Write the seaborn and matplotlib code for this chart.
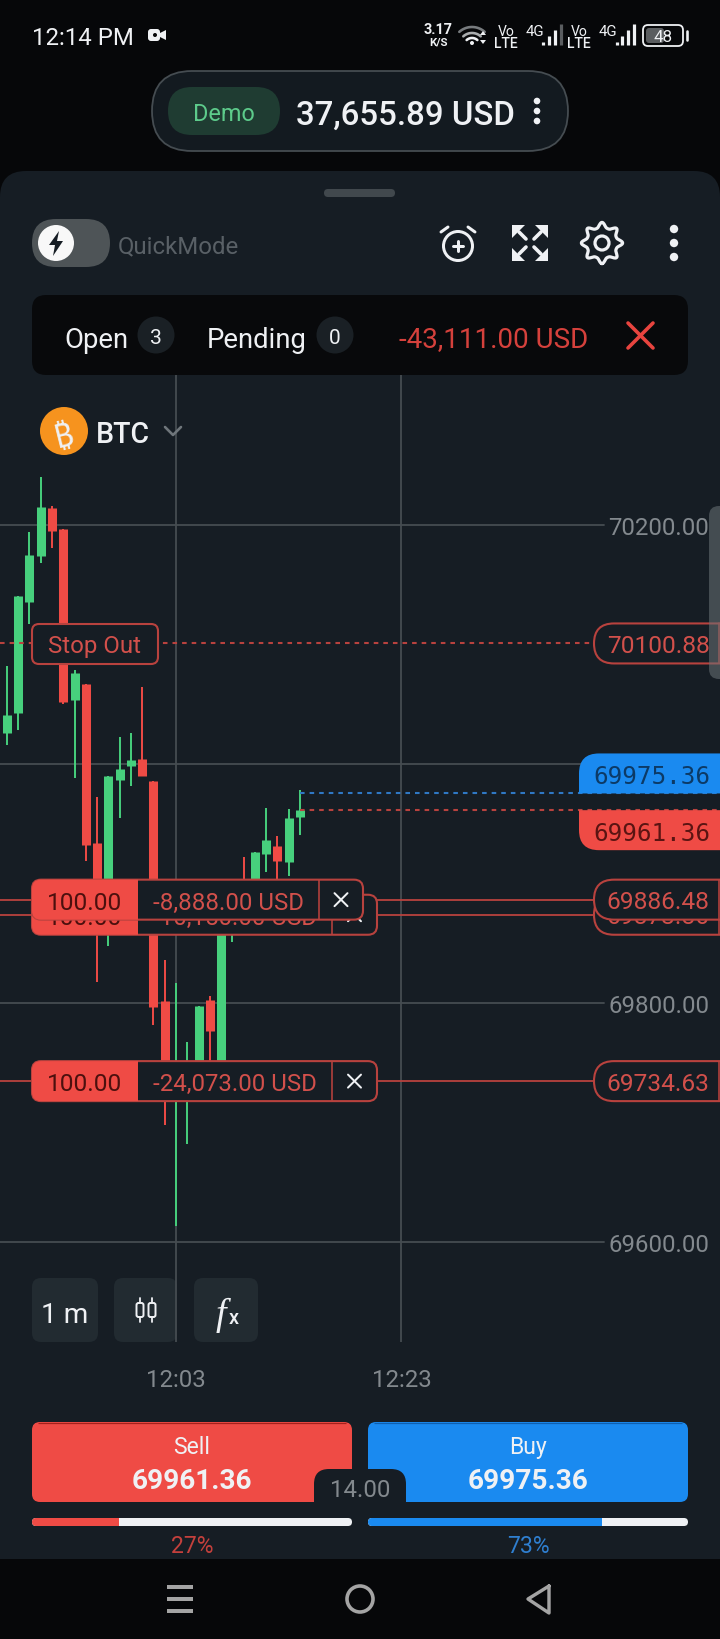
import numpy as np
import pandas as pd
import matplotlib
matplotlib.use('Agg')
import matplotlib.pyplot as plt
import seaborn as sns
from matplotlib.patches import PathPatch, Circle, Polygon
from matplotlib.path import Path

# candles, minutes from 12:03
minutes = [-16, -15, -14, -13, -12, -11, -10, -9, -8, -7, -6, -5, -4, -3, -2, -1, 0, 1, 2, 3, 4, 5, 6, 7, 8, 9, 10, 11]
opens = [70096, 70025.9, 70042.9, 70135.3, 70173.8, 70213.9, 70196.6, 70053.5, 70066.6, 69933.6, 69870, 69986.9, 69998.6,
         70004.2, 69985.5, 69802, 69745, 69725, 69745, 69802.5, 69745, 69860, 69885, 69880, 69925, 69931.6, 69918, 69955.3]
closes = [70060, 70041.3, 70140.3, 70175.2, 70214.8, 70195.2, 70052.1, 70076.1, 69932.5, 69870, 69989.6, 69995.8, 70003.3,
          69989.6, 69796.9, 69745, 69750, 69745, 69797.5, 69776.3, 69870, 69875, 69870, 69926, 69936, 69919, 69955, 69961.8]
highs = [70110, 70082.3, 70140.3, 70193.8, 70239.9, 70216.1, 70196.6, 70078.6, 70066.6, 69972.1, 69989.6, 70022.3, 70025.9,
         70064.1, 69985.5, 69836, 69817, 69767, 69797.5, 69806, 69870, 69880, 69922, 69926, 69963, 69940, 69962, 69978.5]
lows = [70060, 70016.1, 70028.7, 70117.4, 70168.2, 70180.7, 70050.2, 69988, 69918.8, 69817.6, 69847.7, 69954.5, 69981.8,
        69989.6, 69781.6, 69698, 69613.7, 69682, 69745, 69745, 69745, 69851, 69865, 69880, 69909.6, 69900, 69906.5, 69941]

grid_prices = [70200, 70000, 69800, 69600]
grid_labels = ['70200.00', '', '69800.00', '69600.00']  # 70000 sits behind the ask tag
time_ticks = [0, 20]
time_labels = ['12:03', '12:23']

stop_out = 70100.88
ask = 69975.36
bid = 69961.36
position_prices = [69873.86, 69886.48, 69734.63]
position_labels = ['69873.86', '69886.48', '69734.63']
position_pnl = ['-10,150.00 USD', '-8,888.00 USD', '-24,073.00 USD']
position_size = ['100.00', '100.00', '100.00']

BLACK = '#060709'
PANEL = '#161d24'
GREEN = '#47d07d'
RED = '#ef4b45'
LINE_RED = '#b8423e'
TEXT_RED = '#d2504b'
BLUE = '#1a8af0'
GRID = '#454c51'
GREY = '#83898e'
WHITE = '#eff1f4'

PX_MIN = 11.27
PX_USD = 1.195
X0 = 176
Y_70200 = 526
TOP, BOTTOM = 376, 1343

sns.set_theme(style='dark')
plt.rcParams['font.family'] = ['Roboto', 'DejaVu Sans']


def py(price):
    return Y_70200 + (70200 - price) * PX_USD


def rrect(ax, x0, y0, x1, y1, r=0, fc='none', ec='none', lw=0, z=1, alpha=None):
    # r is one radius or (top left, top right, bottom right, bottom left)
    tl, tr, br, bl = (r, r, r, r) if np.isscalar(r) else r
    verts = [(x0 + tl, y0), (x1 - tr, y0), (x1, y0), (x1, y0 + tr), (x1, y1 - br), (x1, y1), (x1 - br, y1),
             (x0 + bl, y1), (x0, y1), (x0, y1 - bl), (x0, y0 + tl), (x0, y0), (x0 + tl, y0), (x0 + tl, y0)]
    codes = [Path.MOVETO, Path.LINETO, Path.CURVE3, Path.CURVE3, Path.LINETO, Path.CURVE3, Path.CURVE3,
             Path.LINETO, Path.CURVE3, Path.CURVE3, Path.LINETO, Path.CURVE3, Path.CURVE3, Path.CLOSEPOLY]
    p = PathPatch(Path(verts, codes), facecolor=fc, edgecolor=ec, linewidth=lw, zorder=z, alpha=alpha)
    ax.add_patch(p)
    return p


def label(ax, x, y, s, px, color=WHITE, ha='center', weight='normal', z=5, **kw):
    return ax.text(x, y, s, fontsize=px * 0.72, color=color, ha=ha, va='center_baseline', fontweight=weight, zorder=z, **kw)


def seg(ax, xs, ys, color=WHITE, lw=2, z=5, cap='round'):
    ax.plot(xs, ys, color=color, lw=lw * 0.72, zorder=z, solid_capstyle=cap, solid_joinstyle='round')


fig = plt.figure(figsize=(7.2, 16.4), dpi=100, facecolor=BLACK)


def pixel_axes(z):
    a = fig.add_axes([0, 0, 1, 1], zorder=z)
    a.set_xlim(0, 720)
    a.set_ylim(1640, 0)
    a.axis('off')
    a.patch.set_alpha(0)
    return a


bg = pixel_axes(0)
ui = pixel_axes(2)

# panel and things that sit under the chart
rrect(bg, 0, 172, 720, 1562, r=(26, 26, 0, 0), fc=PANEL)
rrect(bg, 32, 1279, 98, 1343, r=9, fc='#222b31')
rrect(bg, 114, 1279, 177, 1343, r=9, fc='#222b31')
rrect(bg, 194, 1279, 258, 1343, r=9, fc='#222b31')

# chart
ax = fig.add_axes([0, (1640 - BOTTOM) / 1640, 1, (BOTTOM - TOP) / 1640], zorder=1)
ax.patch.set_alpha(0)

candles = pd.DataFrame({'minute': minutes, 'open': opens, 'close': closes, 'high': highs, 'low': lows})
candles['dir'] = np.where(candles['close'] >= candles['open'], 'up', 'down')
colors = {'up': GREEN, 'down': RED}

wicks = candles.melt(id_vars=['minute', 'dir'], value_vars=['high', 'low'], value_name='price')
bodies = candles.melt(id_vars=['minute', 'dir'], value_vars=['open', 'close'], value_name='price')
sns.lineplot(data=wicks, x='minute', y='price', hue='dir', units='minute', estimator=None, palette=colors,
             linewidth=1.4, legend=False, solid_capstyle='butt', ax=ax, zorder=3)
sns.lineplot(data=bodies, x='minute', y='price', hue='dir', units='minute', estimator=None, palette=colors,
             linewidth=6.5, legend=False, solid_capstyle='butt', ax=ax, zorder=4)

ax.set_xlim(-X0 / PX_MIN, (720 - X0) / PX_MIN)
ax.set_ylim(70200 - (BOTTOM - Y_70200) / PX_USD, 70200 + (Y_70200 - TOP) / PX_USD)

for p in grid_prices:
    ax.axhline(p, xmax=604 / 720, color=GRID, lw=1.3, zorder=1)
ax.set_xticks(time_ticks, time_labels)
ax.set_yticks(grid_prices, grid_labels)
ax.yaxis.tick_right()
ax.tick_params(axis='y', length=0, pad=-80.5, labelsize=24 * 0.72, labelcolor=GREY)
ax.tick_params(axis='x', length=0, pad=18.5, labelsize=24 * 0.72, labelcolor=GREY)
ax.grid(axis='x', color=GRID, lw=1.3, zorder=1)
ax.grid(axis='y', visible=False)
ax.set_xlabel('')
ax.set_ylabel('')
for s in ax.spines.values():
    s.set_visible(False)

# price levels
ax.axhline(stop_out, color=LINE_RED, lw=1.5, ls=(0, (2.2, 2.4)), zorder=5)
ax.axhline(ask, xmin=300 / 720, color='#2f78c4', lw=1.5, ls=(0, (2.2, 2.4)), zorder=5)
ax.axhline(bid, xmin=300 / 720, color=LINE_RED, lw=1.5, ls=(0, (2.2, 2.4)), zorder=5)
for p in position_prices:
    ax.axhline(p, color=LINE_RED, lw=1.3, zorder=5)

# status bar
label(ui, 32, 36, '12:14 PM', 24, ha='left')
rrect(ui, 148, 30, 160, 42, r=3, fc=WHITE)
ui.add_patch(Polygon([(160, 34), (166, 31), (166, 41), (160, 38)], fc=WHITE, ec='none', zorder=5))
ui.add_patch(Circle((155, 36), 2, fc=BLACK, ec='none', zorder=6))
label(ui, 438, 29, '3.17', 14.5, weight='bold')
label(ui, 438, 42, 'K/S', 11.5, weight='bold')
for r, col in [(19, '#777b7e'), (13, '#a9acae'), (8, WHITE)]:
    t = np.linspace(np.radians(48), np.radians(132), 20)
    seg(ui, 472 + r * np.cos(t), 47 - r * np.sin(t), color=col, lw=2.6)
ui.add_patch(Circle((472, 44), 2, fc=WHITE, ec='none', zorder=5))
ui.add_patch(Polygon([(480, 36), (486, 36), (483, 32)], fc=WHITE, ec='none', zorder=5))
ui.add_patch(Polygon([(480, 41), (486, 41), (483, 45)], fc=WHITE, ec='none', zorder=5))
for vx, gx, barx, tops, shades in [(506, 535, [543, 549, 555, 561], [43, 37, 31, 25], [WHITE, WHITE, WHITE, '#5a5d60']),
                                   (579, 608, [617, 622, 628, 634], [43, 37, 31, 25], [WHITE] * 4)]:
    label(ui, vx, 30, 'Vo', 14)
    label(ui, vx, 42, 'LTE', 14, weight='medium')
    label(ui, gx, 31, '4G', 15)
    for bx, bt, c in zip(barx, tops, shades):
        seg(ui, [bx, bx], [bt, 46], color=c, lw=3.2, cap='butt')
rrect(ui, 643, 26, 683, 47, r=5, fc=BLACK, ec=WHITE, lw=1.3)
rrect(ui, 646, 29, 664, 44, r=3, fc='#5a5d60', z=4)
label(ui, 663, 36.5, '48', 17, z=6)
seg(ui, [687, 687], [32, 41], lw=2.6)

# balance pill
rrect(ui, 152, 72, 568, 152, r=40, fc='#131a20', ec='#454c51', lw=1.3)
rrect(ui, 168, 88, 280, 136, r=24, fc='#1f3c32', z=3)
label(ui, 224, 112, 'Demo', 23.5, color='#5dcb8b')
label(ui, 296, 112, '37,655.89 USD', 33, ha='left', weight='medium')
for y in (102, 112, 122):
    ui.add_patch(Circle((537, y), 3.3, fc=WHITE, ec='none', zorder=5))

# handle and quick mode row
rrect(ui, 324, 190, 395, 198, r=4, fc='#41484d')
rrect(ui, 32, 220, 110, 268, r=24, fc='#4e5457')
ui.add_patch(Circle((56, 244), 18, fc='#f8f8f8', ec='none', zorder=4))
ui.add_patch(Polygon([(59, 232), (49, 246), (55, 246), (53, 257), (63, 242), (57, 242)], fc=PANEL, ec='none', zorder=5))
label(ui, 118, 244, 'QuickMode', 24, color='#596066', ha='left')

ui.add_patch(Circle((458, 247), 14.5, fc='none', ec=WHITE, lw=3 * 0.72, zorder=5))
seg(ui, [441, 448], [233, 228], lw=3)
seg(ui, [475, 468], [233, 228], lw=3)
seg(ui, [453, 463], [247, 247], lw=3)
seg(ui, [458, 458], [242, 252], lw=3)

for sx, sy in [(-1, -1), (1, -1), (1, 1), (-1, 1)]:
    cx, cy = 530 + 18 * sx, 244 + 18 * sy
    ui.add_patch(Polygon([(cx, cy), (cx - 13 * sx, cy), (cx, cy - 13 * sy)], fc=WHITE, ec='none', zorder=5))
    seg(ui, [cx - 7 * sx, 530 + 4 * sx], [cy - 7 * sy, 244 + 4 * sy], lw=3.6)

t = np.linspace(0, 2 * np.pi, 241)
gear_r = 17.5 + 2.6 * np.cos(8 * t) + 0.5 * np.cos(16 * t)
seg(ui, 602 + gear_r * np.sin(t), 244 + gear_r * np.cos(t), lw=3.2)
ui.add_patch(Circle((602, 244), 7, fc='none', ec=WHITE, lw=3.2 * 0.72, zorder=5))
for y in (230, 244, 258):
    ui.add_patch(Circle((674, y), 4.2, fc=WHITE, ec='none', zorder=5))

# open positions bar
rrect(ui, 32, 296, 688, 376, r=14, fc='#08090b')
label(ui, 64, 337, 'Open', 27.5, ha='left')
ui.add_patch(Circle((156, 336), 18.5, fc='#1a2025', ec='none', zorder=4))
label(ui, 156, 336, '3', 21)
label(ui, 207, 337, 'Pending', 27.5, ha='left')
ui.add_patch(Circle((335, 336), 18.5, fc='#1a2025', ec='none', zorder=4))
label(ui, 335, 336, '0', 21)
label(ui, 399, 337, '-43,111.00 USD', 27.8, color='#d5413c', ha='left')
seg(ui, [628, 653], [324, 349], color='#e8443f', lw=3.6)
seg(ui, [653, 628], [324, 349], color='#e8443f', lw=3.6)

# symbol
ui.add_patch(Circle((64, 432), 24, fc='#f6931e', ec='none', zorder=4))
label(ui, 64, 432, '\u20bf', 33, weight='bold', rotation=14, family=['Noto Sans', 'Inter', 'Open Sans', 'Lato'])
label(ui, 96, 432, 'BTC', 28.5, ha='left', weight='medium')
seg(ui, [165, 173, 181], [428, 436, 428], color='#6f767b', lw=2.6)

# stop out tag
rrect(ui, 32, 625, 158, 665, r=7, fc=PANEL, ec=LINE_RED, lw=1.5, z=4)
label(ui, 94, 644.5, 'Stop Out', 24, color=TEXT_RED)
rrect(ui, 594, py(stop_out) - 20, 740, py(stop_out) + 20, r=20, fc=PANEL, ec=LINE_RED, lw=1.5, z=4)
seg(ui, [719, 719], [py(stop_out) - 20, py(stop_out) + 20], color=LINE_RED, lw=1.6)
label(ui, 658, py(stop_out) - 0.5, '70100.88', 24.5, color=TEXT_RED)

# ask and bid tags
rrect(ui, 579, py(ask) - 40, 740, py(ask), r=(20, 0, 0, 0), fc=BLUE, z=4)
label(ui, 652, py(ask) - 20, f'{ask:.2f}', 24.3, color='#0c3a66', family=['DejaVu Sans Mono'])
rrect(ui, 579, py(bid), 740, py(bid) + 40, r=(0, 0, 0, 20), fc=RED, z=4)
label(ui, 652, py(bid) + 20, f'{bid:.2f}', 24.3, color='#5a1412', family=['DejaVu Sans Mono'])

# position tags, the first one sits under the second
tag_right = [377, 363, 377]
tag_sep = [332, 319, 332]
for i, price in enumerate(position_prices):
    y, z = py(price), 6 + i * 2
    rrect(ui, 32, y - 20, tag_right[i], y + 20, r=9, fc=PANEL, ec=LINE_RED, lw=1.5, z=z)
    rrect(ui, 32, y - 20, 138, y + 20, r=(9, 0, 0, 9), fc=RED, z=z)
    seg(ui, [tag_sep[i], tag_sep[i]], [y - 20, y + 20], color=LINE_RED, lw=1.6, z=z, cap='butt')
    label(ui, 85, y, position_size[i], 24.5, color='#4c100e', z=z)
    label(ui, (138 + tag_sep[i]) / 2, y, position_pnl[i], 24, color=TEXT_RED, z=z)
    xc = (tag_sep[i] + tag_right[i]) / 2
    seg(ui, [xc - 6.5, xc + 6.5], [y - 6.5, y + 6.5], lw=2, z=z)
    seg(ui, [xc + 6.5, xc - 6.5], [y - 6.5, y + 6.5], lw=2, z=z)
    rrect(ui, 594, y - 20, 740, y + 20, r=20, fc=PANEL, ec=LINE_RED, lw=1.5, z=z)
    seg(ui, [719, 719], [y - 20, y + 20], color=LINE_RED, lw=1.6, z=z, cap='butt')
    label(ui, 658, y - 0.5, position_labels[i], 24.5, color=TEXT_RED, z=z)

rrect(ui, 709, 507, 740, 680, r=10, fc='#6b7377', alpha=0.55, z=5)

# toolbar
label(ui, 65, 1313, '1 m', 28)
for cx in (140, 152):
    seg(ui, [cx, cx], [1299, 1323], lw=1.8)
    rrect(ui, cx - 3.5, 1304, cx + 3.5, 1318, r=2, fc='#222b31', ec=WHITE, lw=1.4, z=6)
label(ui, 221, 1311, 'f', 38, family=['Liberation Serif'], style='italic')
label(ui, 234, 1317, 'x', 20, weight='medium')

# sell and buy
rrect(ui, 32, 1423, 352, 1503, r=8, fc=RED)
rrect(ui, 368, 1423, 688, 1503, r=8, fc=BLUE)
seg(ui, [38, 346], [1423.5, 1423.5], color='#a5201c', lw=1.2, cap='butt')
seg(ui, [374, 682], [1423.5, 1423.5], color='#0f5fb0', lw=1.2, cap='butt')
label(ui, 192, 1445, 'Sell', 23)
label(ui, 192, 1478.5, f'{bid:.2f}', 28, weight='bold')
label(ui, 528, 1445, 'Buy', 23)
label(ui, 528, 1478.5, f'{ask:.2f}', 28, weight='bold')
rrect(ui, 314, 1470, 406, 1504, r=(15, 15, 0, 0), fc=PANEL, z=4)
label(ui, 360, 1488, '14.00', 24, color=GREY)

rrect(ui, 32, 1519, 352, 1527, r=4, fc=WHITE)
rrect(ui, 32, 1519, 119, 1527, r=(4, 0, 0, 4), fc=RED, z=3)
rrect(ui, 368, 1519, 688, 1527, r=4, fc=WHITE)
rrect(ui, 368, 1519, 602, 1527, r=(4, 0, 0, 4), fc=BLUE, z=3)
label(ui, 192, 1544, '27%', 23, color='#c4403c')
label(ui, 528, 1544, '73%', 23, color='#2f7fd0')

# navigation bar
rrect(ui, 0, 1560, 720, 1640, fc=BLACK)
for y in (1588, 1600, 1612):
    seg(ui, [167, 193], [y, y], color='#a4a4a4', lw=4, cap='butt')
ui.add_patch(Circle((360, 1600), 13, fc='none', ec='#a4a4a4', lw=3.6 * 0.72, zorder=5))
seg(ui, [549, 528, 549, 549], [1587, 1600, 1614, 1587], color='#a4a4a4', lw=3.4)

fig.savefig('out.png', dpi=100, facecolor=BLACK)
